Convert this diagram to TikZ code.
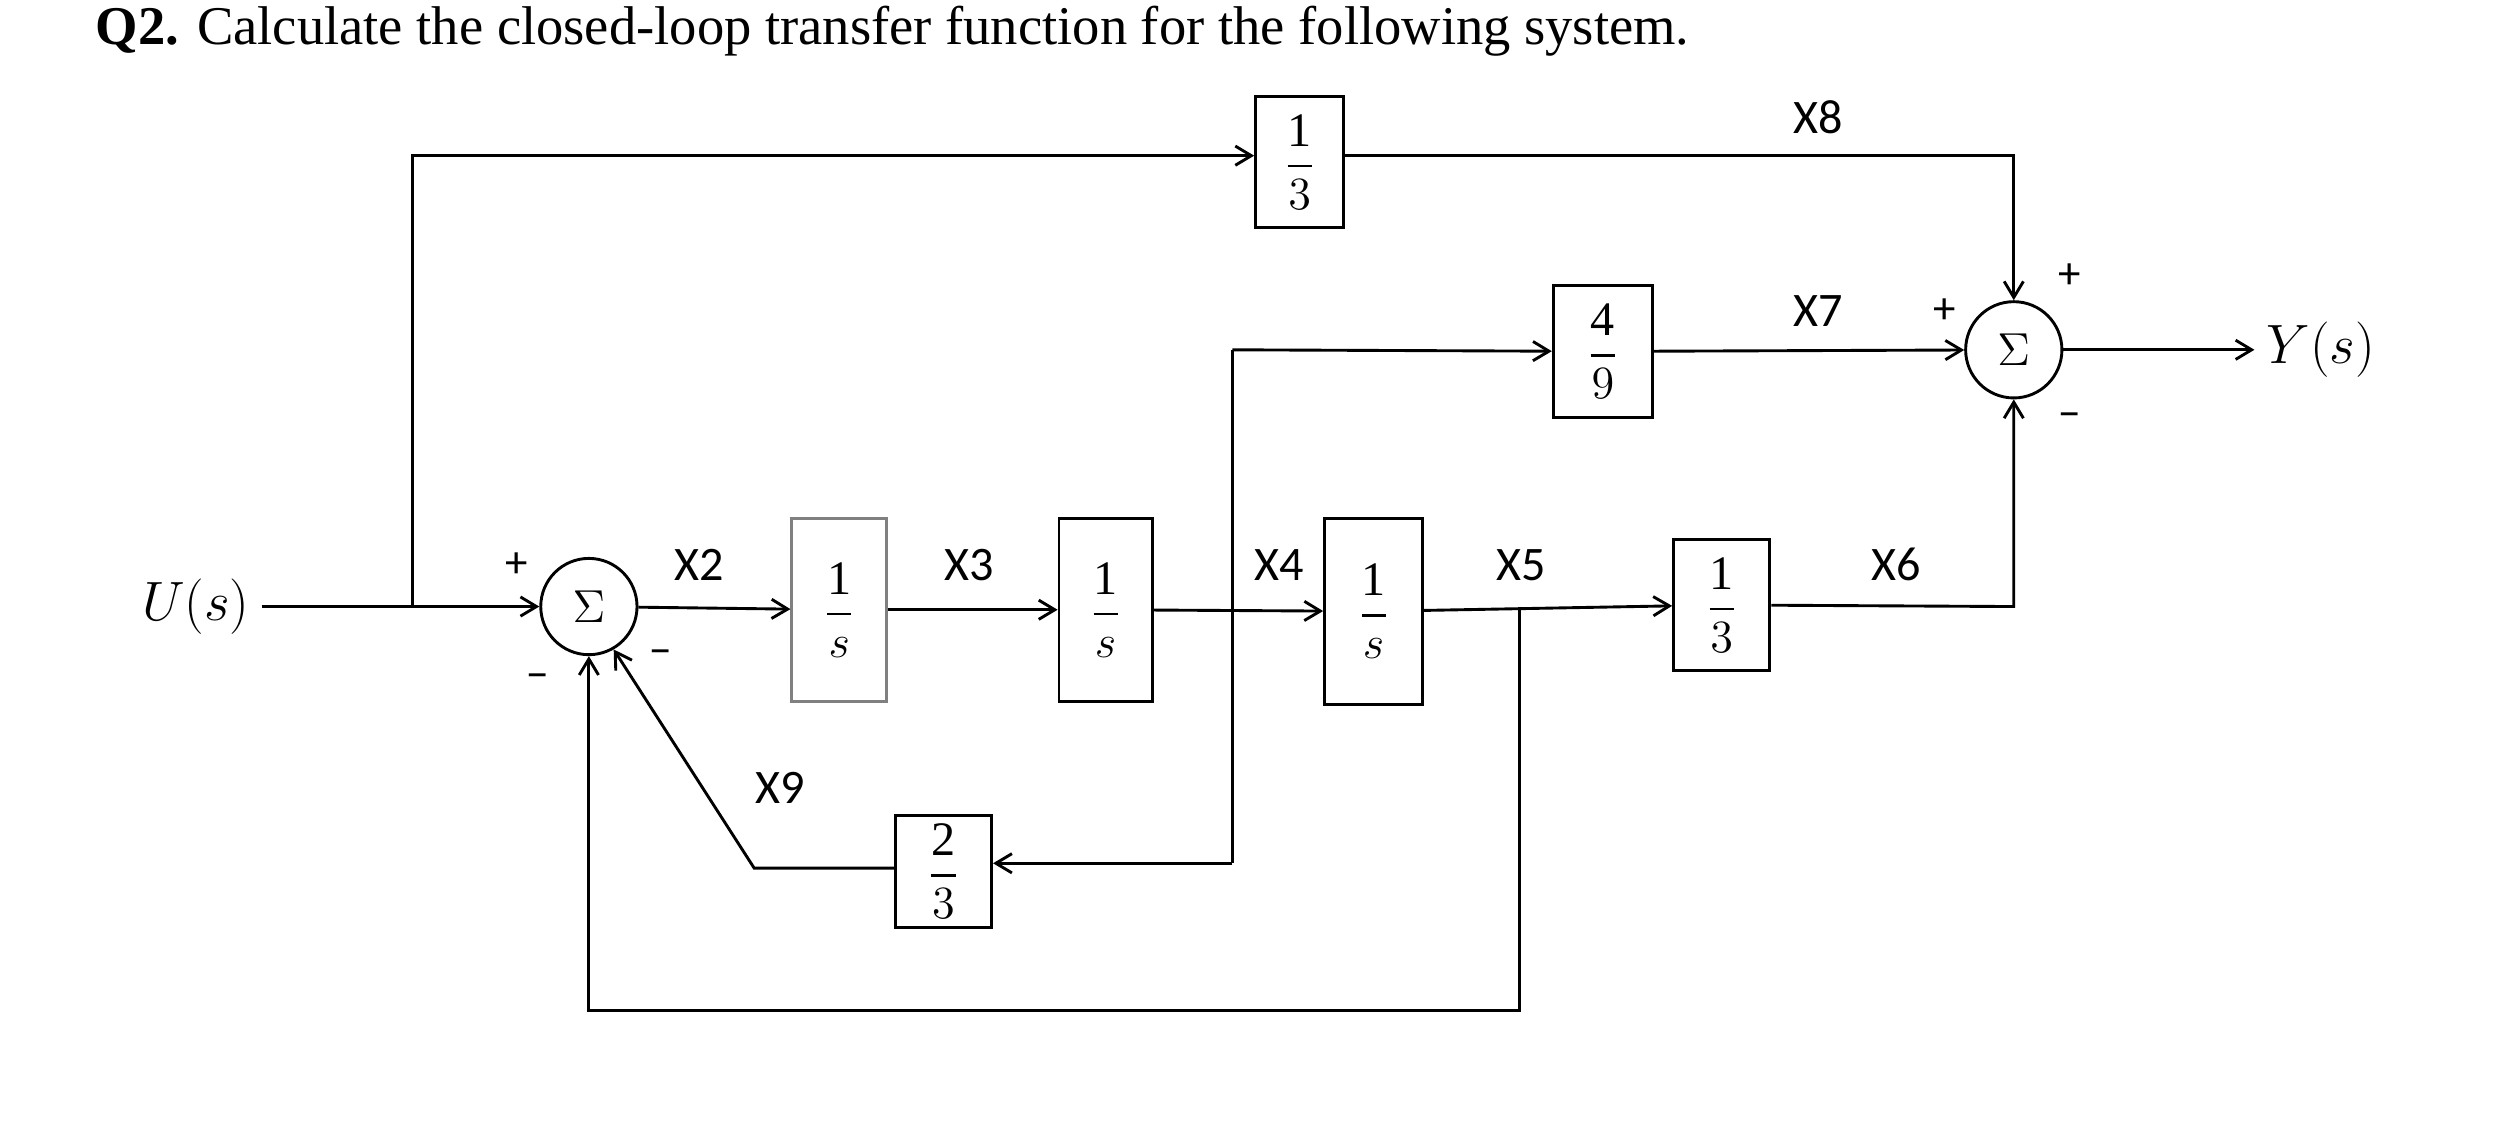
\documentclass[tikz,border=0pt]{standalone}
\usepackage{amsmath}
\usepackage{fontspec}
\setmainfont{Liberation Serif}
\newfontfamily\carl{Carlito}
\usetikzlibrary{arrows.meta}
\begin{document}
\begin{tikzpicture}[x=0.5pt,y=-0.5pt,
 line width=0.9pt,
 >={Straight Barb[length=5pt,width=6pt]},
 blk/.style={draw,inner sep=0pt,font=\fontsize{15}{15}\selectfont},
 sm/.style={draw,circle,minimum size=30pt,inner sep=0pt,font=\fontsize{14}{14}\selectfont},
 lb/.style={font=\carl\fontsize{15}{15}\selectfont},
 sg/.style={font=\carl\fontsize{14}{14}\selectfont}]
\useasboundingbox (0,0) rectangle (1568,707);
\node[anchor=base west,font=\fontsize{17}{17}\selectfont] (title) at (52,28) {\textbf{Q2.} Calculate the closed-loop transfer function for the following system.};
\newcommand\fr[2]{$\genfrac{}{}{0.8pt}{0}{\mathrm{#1}}{#2}$}
\node[font=\fontsize{17}{17}\selectfont] (U) at (122,378) {$U(s)$};
\node[sm] (s1) at (367,378) {$\Sigma$};
\node[blk,draw=gray,minimum width=29.5pt,minimum height=57pt] (g1) at (523,380) {\fr{1}{s}};
\node[blk,minimum width=29pt,minimum height=57pt] (g2) at (689,380) {\fr{1}{s}};
\node[blk,minimum width=30.5pt,minimum height=58pt] (g3) at (856,381) {\fr{1}{s}};
\node[blk,minimum width=30pt,minimum height=41pt] (g4) at (1073,377) {\fr{1}{3}};
\node[blk,minimum width=27.5pt,minimum height=41pt] (g5) at (810,101) {\fr{1}{3}};
\node[blk,minimum width=31pt,minimum height=41pt] (g6) at (999,219) {\fr{4}{9}};
\node[blk,minimum width=30pt,minimum height=35pt] (g7) at (588,543) {\fr{2}{3}};
\node[sm] (s2) at (1255,218) {$\Sigma$};
\node[font=\fontsize{17}{17}\selectfont,anchor=west] (Y) at (1405,218) {$Y(s)$};
\coordinate (b1) at (257,378);
\coordinate (b4) at (768,378);
\coordinate (b5) at (947,378);
\coordinate (c1) at (257,97);
\coordinate (c2) at (1255,97);
\coordinate (c3) at (768,218);
\coordinate (c4) at (768,538);
\coordinate (c5) at (1255,378);
\coordinate (c6) at (947,630);
\coordinate (c7) at (367,630);
\coordinate (c8) at (470,541);
\draw[->] (U) -- (s1);
\draw[->] (s1) -- (g1);
\draw[->] (g1) -- (g2);
\draw[->] (g2) -- (g3);
\draw[->] (g3) -- (g4);
\draw[->] (b1) -- (c1) -- (g5.west|-c1);
\draw[->] (g5.east|-c2) -- (c2) -- (s2);
\draw[->] (c3) -- (g6);
\draw (c3) -- (c4);
\draw[->] (c4) -- (g7.east|-c4);
\draw[->] (g7.west|-c8) -- (c8) -- (s1.-60);
\draw[->] (g6) -- (s2);
\draw[->] (g4) -- (c5) -- (s2);
\draw[->] (b5) -- (c6) -- (c7) -- (s1);
\draw[->] (s2) -- (Y);
\node[lb] (x2) at (436,352) {X2};
\node[lb] (x3) at (604,352) {X3};
\node[lb] (x4) at (797,352) {X4};
\node[lb] (x5) at (948,352) {X5};
\node[lb] (x6) at (1182,352) {X6};
\node[lb] (x7) at (1133,194) {X7};
\node[lb] (x8) at (1133,73) {X8};
\node[lb] (x9) at (486,491) {X9};
\node[sg] (p1) at (322,352) {+};
\node[sg] (m1) at (335,425) {\textminus};
\node[sg] (m2) at (412,410) {\textminus};
\node[sg] (p2) at (1212,194) {+};
\node[sg] (p3) at (1290,172) {+};
\node[sg] (m3) at (1290,262) {\textminus};
\end{tikzpicture}
\end{document}
